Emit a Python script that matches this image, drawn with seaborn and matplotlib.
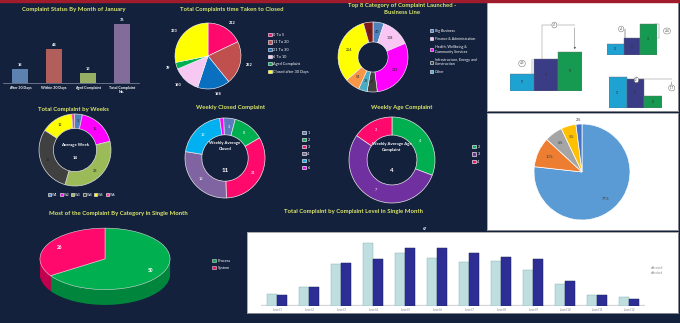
import numpy as np
import pandas as pd
import matplotlib
matplotlib.use("Agg")
import matplotlib.pyplot as plt
import seaborn as sns

# ---------------- data ----------------
status_labels = ["After 30 Days", "Within 30 Days", "Aged Complaint", "Total Complaint\nNo."]
status_values = [18, 44, 13, 76]

closure_labels = ["0 To 5", "11 To 20", "21 To 30", "6 To 10", "Aged Complaint", "Closed after 30 Days"]
closure_values = [212, 252, 188, 160, 39, 333]

category_labels = ["Big Business", "Finance & Administration",
                   "Health, Wellbeing &\nCommunity Services",
                   "Infrastructure, Energy and\nConstruction", "Other",
                   "Education", "Transport", "Housing"]
category_values = [40, 108, 233, 37, 32, 54, 254, 35]

week_labels = ["W1", "W2", "W3", "W4", "W5", "W6"]
week_values = [3, 15, 28, 25, 12, 1]

closed_labels = ["1", "2", "3", "4", "5", "6"]
closed_values = [3, 8, 21, 18, 13, 1]

age_labels = ["2", "3", "4"]
age_values = [4, 7, 2]

share_values = [76, 10, 6, 5, 2]

type_labels = ["Process", "System"]
type_values = [50, 26]

level_labels = ["Level 1", "Level 2", "Level 3", "Level 4", "Level 5", "Level 6",
                "Level 7", "Level 8", "Level 9", "Level 10", "Level 11", "Level 12"]
level_received = [13, 20, 45, 67, 56, 51, 47, 48, 38, 23, 12, 10]
level_resolved = [12, 20, 46, 50, 61, 61, 56, 52, 50, 26, 12, 7]

compare_a = [17, 32, 39]
compare_b = [11, 17, 31]
compare_c = [31, 29, 12]

# ---------------- style ----------------
sns.set_theme(style="white")
plt.rcParams["font.family"] = ["Lato", "DejaVu Sans"]

BG = "#13213c"
TITLE = "#dbe66b"
W, H = 680, 323

fig = plt.figure(figsize=(W / 100, H / 100), dpi=100, facecolor=BG)


def box(x0, y0, x1, y1):
    return [x0 / W, 1 - y1 / H, (x1 - x0) / W, (y1 - y0) / H]


def title(x, y, s, size=4.3):
    fig.text(x / W, 1 - y / H, s, ha="center", va="center", color=TITLE,
             fontsize=size, fontweight="bold", linespacing=1.5)


def pie_axes(cx, cy, r, pad=1.0):
    ax = fig.add_axes(box(cx - r * pad, cy - r * pad, cx + r * pad, cy + r * pad))
    ax.set_facecolor("none")
    return ax


def finish_pie(ax, pad=1.0):
    ax.set_xlim(-pad, pad)
    ax.set_ylim(-pad, pad)
    ax.set_aspect("auto")
    ax.axis("off")


def legend_at(ax, handles, labels, x, y, fs=3.0, spacing=0.7, color="white", **kw):
    opts = dict(loc="upper left", bbox_to_anchor=(x / W, 1 - y / H),
                bbox_transform=fig.transFigure, frameon=False, fontsize=fs,
                labelcolor=color, handlelength=0.9, handleheight=0.9,
                handletextpad=0.5, labelspacing=spacing, borderpad=0, borderaxespad=0)
    opts.update(kw)
    return ax.legend(handles, labels, **opts)


# top accent stripe
fig.patches.append(plt.Rectangle((0, 1 - 2 / H), 1, 2 / H, transform=fig.transFigure,
                                 color="#a01c2c", zorder=0))

# ---------------- complaint status bars ----------------
title(74, 9, "Complaint Status By Month of January")
ax = fig.add_axes(box(3, 20, 139, 83))
ax.set_facecolor("none")
sns.barplot(x=status_labels, y=status_values, hue=status_labels,
            palette=["#4f81bd", "#c0504d", "#9bbb59", "#8064a2"],
            width=0.45, legend=False, ax=ax, linewidth=0)
for i, v in enumerate(status_values):
    ax.text(i, v + 2, str(v), ha="center", va="bottom", color="white",
            fontsize=2.8, fontweight="bold")
ax.set_ylim(0, 81)
ax.set_xlim(-0.5, 3.5)
ax.set_yticks([])
ax.set_xlabel("")
ax.set_ylabel("")
ax.tick_params(axis="x", colors="white", labelsize=2.6, length=0, pad=2)
for lab in ax.get_xticklabels():
    lab.set_fontweight("bold")
for s in ["top", "right", "left"]:
    ax.spines[s].set_visible(False)
ax.spines["bottom"].set_color("#8a93a8")
ax.spines["bottom"].set_linewidth(0.5)

# ---------------- time taken to close pie ----------------
title(232, 9, "Total Complaints time Taken to Closed")
ax = pie_axes(208, 56, 33, pad=1.35)
closure_colors = ["#ff0a6c", "#c0504d", "#0b6fc0", "#f7c8f2", "#00b050", "#ffff00"]
wedges, texts = ax.pie(closure_values, colors=closure_colors, startangle=90,
                       counterclock=False, labels=[str(v) for v in closure_values],
                       labeldistance=1.18,
                       wedgeprops=dict(edgecolor="white", linewidth=0.4),
                       textprops=dict(color="white", fontsize=2.8, fontweight="bold"))
finish_pie(ax, 1.35)
legend_at(ax, wedges, closure_labels, 268, 33, fs=2.8, spacing=0.85)

# ---------------- top categories donut ----------------
title(402, 9, "Top 8 Category of Complaint Launched -\nBusiness Line")
ax = pie_axes(373, 57, 35)
category_colors = ["#4f81bd", "#f9c6f3", "#ff00ff", "#404040", "#4bacc6",
                   "#f79646", "#ffff00", "#7b1a1a"]
cat_total = sum(category_values)
wedges, _, autos = ax.pie(category_values, colors=category_colors, startangle=90,
                          counterclock=False, pctdistance=0.72,
                          autopct=lambda p: f"{p * cat_total / 100:.0f}",
                          wedgeprops=dict(width=0.57, edgecolor="white", linewidth=0.4),
                          textprops=dict(color="#222222", fontsize=2.6))
finish_pie(ax)
legend_at(ax, wedges[:5], category_labels[:5], 430, 29, fs=2.6, spacing=1.1)

# ---------------- comparison panel (top right) ----------------
ax = fig.add_axes(box(487, 2, 678, 111))
ax.set_facecolor("white")
ax.set_xticks([])
ax.set_yticks([])
for s in ax.spines.values():
    s.set_color("#9a9a9a")
    s.set_linewidth(0.6)

cmp_colors = ["#00b0f0", "#2e3192", "#00b050"]


def compare_group(values, rect, ylim):
    a = fig.add_axes(box(*rect))
    a.set_facecolor("none")
    sns.barplot(x=["a", "b", "c"], y=values, hue=["a", "b", "c"], palette=cmp_colors,
                width=1.0, legend=False, ax=a, edgecolor="#707070", linewidth=0.3)
    for i, v in enumerate(values):
        a.text(i, v / 2, str(v), ha="center", va="center", color="#333333", fontsize=1.8)
    a.set_ylim(0, ylim)
    a.set_xlim(-0.5, 2.5)
    a.axis("off")
    return a


def bubble(a, x, y, s):
    a.text(x, y, s, ha="center", va="center", fontsize=1.9, color="#333333",
           bbox=dict(boxstyle="round,pad=0.35,rounding_size=0.9", fc="white",
                     ec="#555555", lw=0.3), clip_on=False, zorder=5)


def link(a, xs, ys, arrow=True):
    a.plot(xs[:-1], ys[:-1], color="#777777", lw=0.3, clip_on=False)
    if arrow:
        a.annotate("", xy=(xs[-1], ys[-1]), xytext=(xs[-2], ys[-2]),
                   arrowprops=dict(arrowstyle="-|>", color="#555555", lw=0.3,
                                   mutation_scale=3), annotation_clip=False)
    else:
        a.plot(xs[-2:], ys[-2:], color="#777777", lw=0.3, clip_on=False)


a = compare_group(compare_a, (510, 40, 582, 91), 51)
link(a, [0.42, 0.42, 0.42], [compare_a[0], compare_a[1], compare_a[1]], arrow=False)
bubble(a, 0.0, (compare_a[0] + compare_a[1]) / 2 + 3, f"+{compare_a[1] - compare_a[0]}")
link(a, [0.85, 0.85, 2.2, 2.2], [compare_a[1], 66, 66, compare_a[2]])
bubble(a, 1.35, 66, f"+{compare_a[2] - compare_a[1]}")

b = compare_group(compare_b, (607, 20, 657, 55), 35)
link(b, [0.55, 0.55, 0.55], [compare_b[1], 26, compare_b[1]], arrow=False)
bubble(b, 0.35, 26, f"+{compare_b[1] - compare_b[0]}")
link(b, [2.35, 2.6, 2.6, 2.35], [compare_b[2], compare_b[2], compare_b[1], compare_b[1]],
     arrow=False)
bubble(b, 3.1, (compare_b[1] + compare_b[2]) / 2, f"+{compare_b[2] - compare_b[1]}")

c = compare_group(compare_c, (609, 70, 662, 108), 38)
bubble(c, 1.05, compare_c[1] - 1, f"-{compare_c[0] - compare_c[1]}")
link(c, [1.2, 3.05, 3.05], [compare_c[1], compare_c[1], compare_c[2] + 4])
bubble(c, 3.05, compare_c[2] + 8, f"-{compare_c[1] - compare_c[2]}")

# ---------------- weeks donut ----------------
title(73, 110, "Total Complaint by Weeks")
ax = pie_axes(75, 150, 36)
week_colors = ["#4f81bd", "#ff00ff", "#9bbb59", "#404040", "#ffff00", "#ff3399"]
wedges, _, autos = ax.pie(week_values, colors=week_colors, startangle=91,
                          counterclock=False, pctdistance=0.8,
                          autopct=lambda p: f"{p * sum(week_values) / 100:.0f}",
                          wedgeprops=dict(width=0.4, edgecolor="#dddddd", linewidth=0.5),
                          textprops=dict(color="#222222", fontsize=2.8))
autos[-1].set_text("")
ax.text(0, 0.15, "Average Week", ha="center", va="center", color="white",
        fontsize=3.1, fontweight="bold")
ax.text(0, -0.22, f"{sum(week_values) / len(week_values):.0f}", ha="center",
        va="center", color="white", fontsize=3.1, fontweight="bold")
finish_pie(ax)
legend_at(ax, wedges, week_labels, 48, 193, fs=2.5, spacing=0.5, ncol=6,
          columnspacing=0.5, handletextpad=0.3)

# ---------------- weekly closed donut ----------------
title(231, 108, "Weekly Closed Complaint")
ax = pie_axes(225, 158, 40)
closed_colors = ["#5b7bc0", "#00b050", "#ff0a6c", "#8064a2", "#00b0f0", "#ff00ff"]
wedges, _, autos = ax.pie(closed_values, colors=closed_colors, startangle=92,
                          counterclock=False, pctdistance=0.79,
                          autopct=lambda p: f"{p * sum(closed_values) / 100:.0f}",
                          wedgeprops=dict(width=0.42, edgecolor="#e6e6e6", linewidth=0.5),
                          textprops=dict(color="white", fontsize=2.8))
autos[-1].set_text("")
ax.text(0, 0.3, "Weekly Average\nClosed", ha="center", va="center", color="white",
        fontsize=3.1, fontweight="bold", linespacing=1.4)
ax.text(0, -0.3, f"{sum(closed_values) / len(closed_values):.0f}", ha="center",
        va="center", color="white", fontsize=4.6, fontweight="bold")
finish_pie(ax)
legend_at(ax, wedges, closed_labels, 302, 131, fs=2.8, spacing=0.75)

# ---------------- weekly age donut ----------------
title(402, 107, "Weekly Age Complaint")
ax = pie_axes(392, 160, 43)
age_colors = ["#00b050", "#7030a0", "#ff0a6c"]
wedges, _, autos = ax.pie(age_values, colors=age_colors, startangle=90,
                          counterclock=False, pctdistance=0.79,
                          autopct=lambda p: f"{p * sum(age_values) / 100:.0f}",
                          wedgeprops=dict(width=0.42, edgecolor="#e6e6e6", linewidth=0.5),
                          textprops=dict(color="white", fontsize=2.8))
ax.text(0, 0.3, "Weekly Average Age\nComplaint", ha="center", va="center", color="white",
        fontsize=3.1, fontweight="bold", linespacing=1.4)
ax.text(0, -0.25, f"{sum(age_values) / len(age_values):.0f}", ha="center",
        va="center", color="white", fontsize=4.6, fontweight="bold")
finish_pie(ax)
legend_at(ax, wedges, age_labels, 472, 145, fs=2.8, spacing=0.85)

# ---------------- share pie (white box) ----------------
ax = fig.add_axes(box(487, 113, 678, 230))
ax.set_facecolor("white")
ax.set_xticks([])
ax.set_yticks([])
for s in ax.spines.values():
    s.set_color("#9a9a9a")
    s.set_linewidth(0.6)
ax = pie_axes(582, 172, 48)
wedges, _, autos = ax.pie(share_values, colors=["#5b9bd5", "#ed7d31", "#a5a5a5",
                                                  "#ffc000", "#4472c4"],
                          startangle=90, counterclock=False, pctdistance=0.75,
                          autopct=lambda p: f"{p:.0f}%",
                          wedgeprops=dict(edgecolor="white", linewidth=0.5),
                          textprops=dict(color="#404040", fontsize=2.8))
x0, y0 = autos[-1].get_position()
autos[-1].set_position((x0 * 1.45, y0 * 1.45))
finish_pie(ax)

# ---------------- category 3-D pie ----------------
title(118, 213, "Most of the Complaint By Category in Single Month")
ax = fig.add_axes(box(38, 222, 172, 312))
ax.set_facecolor("none")
for d in np.linspace(0.5, 0.02, 25):
    ax.pie(type_values, colors=["#00853d", "#c0004e"], startangle=90,
           counterclock=False, center=(0, -d), wedgeprops=dict(linewidth=0))
wedges, _, autos = ax.pie(type_values, colors=["#00b050", "#ff0a6c"], startangle=90,
                          counterclock=False, pctdistance=0.8,
                          autopct=lambda p: f"{p * sum(type_values) / 100:.0f}",
                          wedgeprops=dict(edgecolor="#d8d8d8", linewidth=0.4),
                          textprops=dict(color="white", fontsize=3.4, fontweight="bold"))
ax.set_aspect("auto")
ax.set_xlim(-1.03, 1.03)
ax.set_ylim(-1.73, 1.2)
ax.axis("off")
legend_at(ax, wedges, type_labels, 212, 259, fs=2.8, spacing=0.8)

# ---------------- complaint level bars ----------------
title(353, 212, "Total Complaint by Complaint Level in Single Month")
ax = fig.add_axes(box(247, 232, 678, 313))
ax.set_facecolor("white")
ax.set_xticks([])
ax.set_yticks([])
for s in ax.spines.values():
    s.set_color("#9a9a9a")
    s.set_linewidth(0.6)

levels_df = pd.DataFrame({
    "level": level_labels * 2,
    "count": level_received + level_resolved,
    "series": ["Received"] * len(level_labels) + ["Resolved"] * len(level_labels),
})
ax = fig.add_axes(box(261, 238, 645, 306))
ax.set_facecolor("none")
ax.axhline(0, color="#d4d4d4", lw=1.6, zorder=0)
sns.barplot(data=levels_df, x="level", y="count", hue="series",
            palette=["#b9e3e6", "#1c1ca6"], width=0.6, ax=ax,
            edgecolor="#1a2a5a", linewidth=0.35)
for patch in ax.patches[:len(level_labels)]:
    patch.set_edgecolor("#8fb6ba")
ax.set_ylim(0, 72)
ax.set_xlim(-0.5, len(level_labels) - 0.5)
ax.set_yticks([])
ax.set_xlabel("")
ax.set_ylabel("")
ax.tick_params(axis="x", colors="#777777", labelsize=2.0, length=0, pad=1.5)
for s in ax.spines.values():
    s.set_visible(False)
handles = ax.get_legend_handles_labels()[0]
legend_at(ax, handles, ["Received", "Resolved"], 652, 266,
          fs=2.0, spacing=0.3, color="#888888", handlelength=0, handletextpad=0)
fig.text(425 / W, 1 - 229 / H, str(max(level_received)), ha="center", va="center",
         color="white", fontsize=2.6, fontweight="bold")

fig.savefig("out.png", dpi=100, facecolor=BG)
